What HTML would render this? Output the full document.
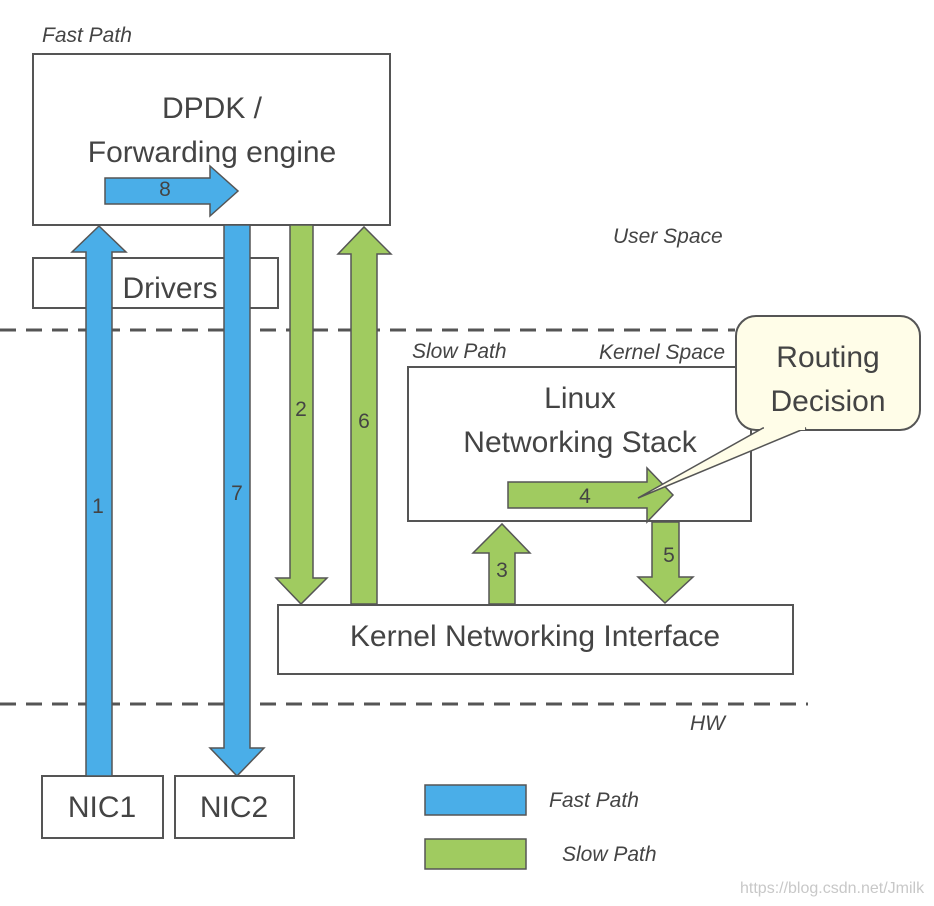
<!DOCTYPE html>
<html><head><meta charset="utf-8"><style>body{margin:0;background:#fff}svg{display:block}text{font-family:"Liberation Sans",sans-serif;fill:#444}</style></head><body>
<svg width="934" height="906" viewBox="0 0 934 906" xmlns="http://www.w3.org/2000/svg">
<g stroke="#555" stroke-width="2" fill="#fff">
<rect x="33" y="54" width="357" height="171"/>
<rect x="33" y="258" width="245" height="50"/>
<rect x="408" y="367" width="343" height="154"/>
<rect x="278" y="605" width="515" height="69"/>
<rect x="42" y="776" width="121" height="62"/>
<rect x="175" y="776" width="119" height="62"/>
</g>
<g stroke="#555" stroke-width="3" stroke-dasharray="16,10">
<line x1="0" y1="330" x2="735" y2="330"/>
<line x1="0" y1="704" x2="808" y2="704"/>
</g>
<g stroke="#555" stroke-width="1.5">
<polygon fill="#4aaee8" points="86,776 86,252 72,252 99,226 126,252 112,252 112,776"/>
<polygon fill="#4aaee8" points="224,225 250,225 250,748 264,748 237,776 210,748 224,748"/>
<polygon fill="#a0cb60" points="290,225 313,225 313,578 327,578 301,604 276,578 290,578"/>
<polygon fill="#a0cb60" points="351,604 351,254 338,254 364,227 391,254 377,254 377,604"/>
<polygon fill="#4aaee8" points="105,178 210,178 210,166 238,191 210,216 210,204 105,204"/>
<polygon fill="#a0cb60" points="508,482 647,482 647,468 673,495 647,522 647,508 508,508"/>
<polygon fill="#a0cb60" points="489,604 489,553 473,553 502,524 530,553 515,553 515,604"/>
<polygon fill="#a0cb60" points="652,522 679,522 679,577 693,577 665,603 638,577 652,577"/>
<rect x="425" y="785" width="101" height="30" fill="#4aaee8"/>
<rect x="425" y="839" width="101" height="30" fill="#a0cb60"/>
</g>
<rect x="736" y="316" width="184" height="114" rx="20" fill="#fffde8" stroke="#555" stroke-width="2"/>
<polygon points="763,428 806,428 638,498" fill="#fffde8" stroke="#555" stroke-width="1.5"/>
<rect x="764" y="420" width="41" height="10" fill="#fffde8"/>
<g font-size="30" text-anchor="middle">
<text x="212" y="118">DPDK /</text>
<text x="212" y="162">Forwarding engine</text>
<text x="170" y="298">Drivers</text>
<text x="580" y="408">Linux</text>
<text x="580" y="452">Networking Stack</text>
<text x="535" y="646">Kernel Networking Interface</text>
<text x="102" y="817">NIC1</text>
<text x="234" y="817">NIC2</text>
<text x="828" y="367">Routing</text>
<text x="828" y="411">Decision</text>
</g>
<g font-size="21" text-anchor="middle">
<text x="165" y="196">8</text>
<text x="98" y="513">1</text>
<text x="237" y="500">7</text>
<text x="301" y="416">2</text>
<text x="364" y="428">6</text>
<text x="585" y="503">4</text>
<text x="502" y="577">3</text>
<text x="669" y="562">5</text>
</g>
<g font-size="21" font-style="italic">
<text x="42" y="42">Fast Path</text>
<text x="613" y="243">User Space</text>
<text x="412" y="358">Slow Path</text>
<text x="599" y="359">Kernel Space</text>
<text x="690" y="730">HW</text>
<text x="549" y="807">Fast Path</text>
<text x="562" y="861">Slow Path</text>
</g>
<text x="740" y="893" font-size="16" style="fill:#c8c8c8">https://blog.csdn.net/Jmilk</text>
</svg>
</body></html>
